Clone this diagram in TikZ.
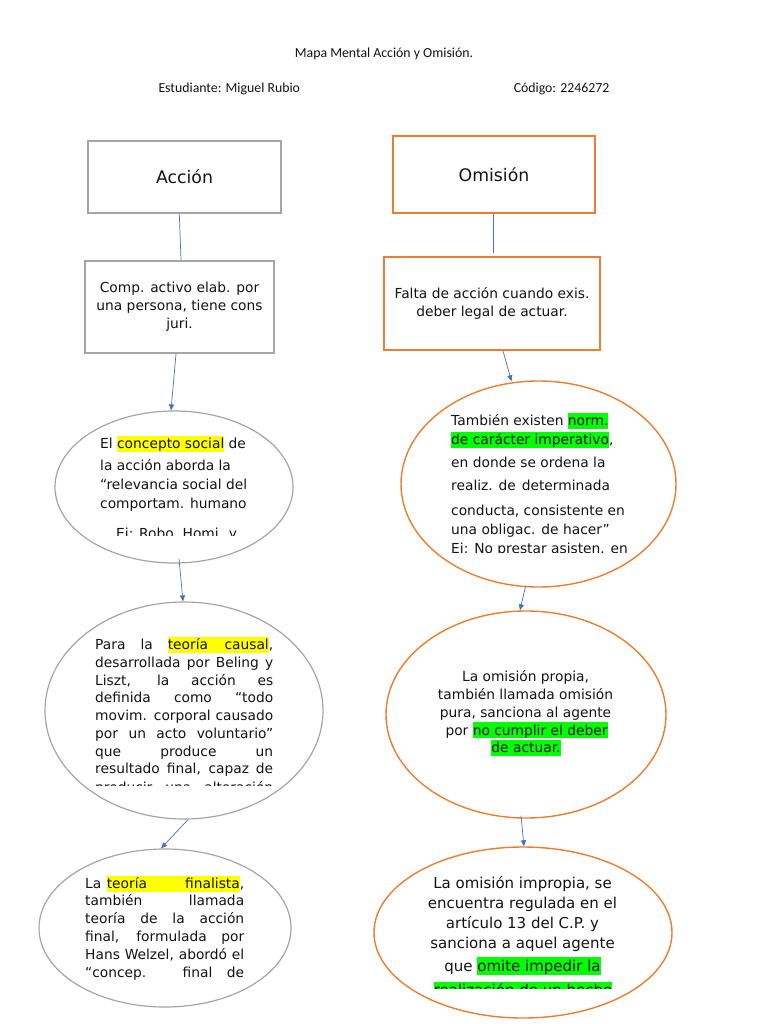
\documentclass[tikz,border=0pt]{standalone}
\usepackage{fontspec}
\setmainfont{DejaVu Sans}
\newfontfamily\hdrfont{Carlito}
\usetikzlibrary{shapes.geometric,arrows.meta}
\definecolor{boxgray}{HTML}{A5A5A5}
\definecolor{orng}{HTML}{ED7D31}
\definecolor{arrblue}{HTML}{4472C4}
\definecolor{txt}{HTML}{141414}
\definecolor{hlyellow}{HTML}{FFFF00}
\definecolor{hlgreen}{HTML}{00FF00}
\newcommand{\hlt}[2]{{\setlength{\fboxsep}{0pt}\colorbox{#1}{\rule[-0.236em]{0pt}{1.164em}#2}}}
\newcommand{\jl}[2]{\makebox[#1][s]{#2}}
\begin{document}
\begin{tikzpicture}[x=1pt,y=-1pt,
  hdr/.style={font=\hdrfont\fontsize{13.8}{16}\selectfont, text=txt, inner sep=0},
  gbox/.style={rectangle, draw=boxgray, line width=1.8pt, inner sep=0, text=txt, align=center},
  obox/.style={rectangle, draw=orng, line width=1.8pt, inner sep=0, text=txt, align=center},
  gell/.style={ellipse, draw=boxgray, line width=1.2pt, inner sep=0},
  oell/.style={ellipse, draw=orng, line width=1.4pt, inner sep=0},
  conn/.style={draw=arrblue, line width=0.7pt},
  arr/.style={conn, -{Triangle[length=6pt,width=5pt]}},
  body/.style={font=\fontsize{13.8}{18}\selectfont, text=txt, inner sep=0},
  bigbody/.style={font=\fontsize{15}{20}\selectfont, text=txt, inner sep=0},
  lineL/.style={body, anchor=mid west},
  lineC/.style={body, anchor=mid},
  lineBC/.style={bigbody, anchor=mid}
]
\fill[white] (0,0) rectangle (768,1024);
\useasboundingbox (0,0) rectangle (768,1024);

% header
\node[hdr, anchor=mid] (title) at (384,55) {Mapa Mental Acción y Omisión.};
\node[hdr, anchor=mid west] (est) at (158.3,90) {Estudiante: Miguel Rubio};
\node[hdr, anchor=mid east] (cod) at (609.5,90) {Código: 2246272};

% boxes
\node[gbox, minimum width=193pt, minimum height=72pt, font=\fontsize{17.3}{20}\selectfont] (acc) at (184.5,177) {Acción};
\node[obox, minimum width=202pt, minimum height=77pt, font=\fontsize{17.3}{20}\selectfont] (omi) at (494,174.5) {Omisión};
\node[gbox, minimum width=189pt, minimum height=92pt, font=\fontsize{13.8}{18}\selectfont] (comp) at (179.5,307) {Comp. activo elab. por\\una persona, tiene cons\\juri.};
\node[obox, minimum width=216.5pt, minimum height=93pt, font=\fontsize{13.8}{18}\selectfont] (fal) at (492,303.5) {Falta de acción cuando exis.\\deber legal de actuar.};

% ellipses
\node[gell, minimum width=238pt, minimum height=152pt] (e1) at (174,487) {};
\node[oell, minimum width=275pt, minimum height=206pt] (e2) at (538.5,484) {};
\node[gell, minimum width=278pt, minimum height=217pt] (e3) at (184,710.5) {};
\node[oell, minimum width=280pt, minimum height=207pt] (e4) at (526,714.5) {};
\node[gell, minimum width=252pt, minimum height=158pt] (e5) at (165,928) {};
\node[oell, minimum width=298pt, minimum height=171pt] (e6) at (523,932.5) {};

% connectors
\draw[conn] ([xshift=-5.2pt]acc.south) -- ([xshift=1.5pt]comp.north);
\draw[conn] ([xshift=-0.7pt]omi.south) -- ([xshift=1.3pt,yshift=3.4pt]fal.north);
\draw[arr] ([xshift=-3.5pt]comp.south) -- ([xshift=-3pt]e1.north);
\draw[arr] ([xshift=11pt]fal.south) -- ([xshift=-27pt,yshift=-1pt]e2.north);
\draw[arr] ([xshift=5pt,yshift=5pt]e1.south) -- ([xshift=-1pt]e3.north);
\draw[arr] ([xshift=-12.8pt,yshift=2pt]e2.south) -- ([xshift=-6pt]e4.north);
\draw[arr] ([xshift=4pt]e3.south) -- ([xshift=-4pt]e5.north);
\draw[arr] ([xshift=-5pt,yshift=3pt]e4.south) -- ([xshift=1pt]e6.north);

% ellipse 1 text
\node[lineL] (t11) at (100,446) {El \hlt{hlyellow}{concepto social} de};
\node[lineL] (t12) at (100,468) {la acción aborda la};
\node[lineL] (t13) at (100,487) {“relevancia social del};
\node[lineL] (t14) at (100,506) {comportam. humano};
\begin{scope}
\clip (90,515) rectangle (280,535);
\node[body, anchor=base west] (t15) at (116,538.4) {Ej: Robo, Homi. y};
\end{scope}

% ellipse 2 text
\node[lineL] (t21) at (451,423) {También existen \hlt{hlgreen}{norm.}};
\node[lineL] (t22) at (451,442) {\hlt{hlgreen}{de carácter imperativo},};
\node[lineL] (t23) at (451,465) {en donde se ordena la};
\node[lineL] (t24) at (451,488) {realiz. de\kern1.5pt\ determinada};
\node[lineL] (t25) at (451,513) {conducta, consistente en};
\node[lineL] (t26) at (451,532) {una obligac. de hacer”};
\begin{scope}
\clip (440,538) rectangle (650,552.5);
\node[body, anchor=base west] (t27) at (451,553.5) {Ej: No prestar asisten. en};
\end{scope}

% ellipse 3 text
\node[lineL] (t31) at (95,647) {\jl{178pt}{Para la \hlt{hlyellow}{\makebox[101pt][s]{teoría causal}},}};
\node[lineL] (t32) at (95,664.5) {\jl{178pt}{desarrollada por Beling y}};
\node[lineL] (t33) at (95,682.5) {\jl{178pt}{Liszt, la acción es}};
\node[lineL] (t34) at (95,700) {\jl{178pt}{definida como “todo}};
\node[lineL] (t35) at (95,718) {\jl{178pt}{movim. corporal causado}};
\node[lineL] (t36) at (95,736) {\jl{178pt}{por un acto voluntario”}};
\node[lineL] (t37) at (95,753.5) {\jl{178pt}{que produce un}};
\node[lineL] (t38) at (95,771) {\jl{178pt}{resultado final, capaz de}};
\begin{scope}
\clip (85,778) rectangle (285,785.3);
\node[body, anchor=base west] (t39) at (95,792.6) {\jl{178pt}{producir una alteración}};
\end{scope}

% ellipse 4 text
\node[lineC] (t41) at (525.5,678.3) {La omisión propia,};
\node[lineC] (t42) at (525.5,696.7) {también llamada omisión};
\node[lineC] (t43) at (525.5,714.3) {pura, sanciona al agente};
\node[lineC] (t44) at (526.5,732.3) {por \hlt{hlgreen}{no cumplir el deber}};
\node[lineC] (t45) at (526,750) {\hlt{hlgreen}{de actuar.}};

% ellipse 5 text
\node[lineL] (t51) at (85,885.7) {\jl{159pt}{La \hlt{hlyellow}{\makebox[133pt][s]{teoría finalista}},}};
\node[lineL] (t52) at (85,903) {\jl{159pt}{también llamada}};
\node[lineL] (t53) at (85,921) {\jl{159pt}{teoría de la acción}};
\node[lineL] (t54) at (85,939) {\jl{159pt}{final, formulada por}};
\node[lineL] (t55) at (85,956.7) {\jl{159pt}{Hans Welzel, abordó el}};
\begin{scope}
\clip (75,965) rectangle (260,979.5);
\node[body, anchor=base west] (t56) at (85,977.7) {\jl{159pt}{“concep. final de}};
\end{scope}

% ellipse 6 text
\node[lineBC] (t61) at (522.5,886) {La omisión impropia, se};
\node[lineBC] (t62) at (522.5,906) {encuentra regulada en el};
\node[lineBC] (t63) at (522.5,926) {artículo 13 del C.P. y};
\node[lineBC] (t64) at (522.5,946) {sanciona a aquel agente};
\node[lineBC] (t65) at (522.5,968.3) {que \hlt{hlgreen}{omite impedir la}};
\begin{scope}
\clip (420,976) rectangle (630,988.3);
\node[bigbody, anchor=base] (t66) at (523,995.5) {\hlt{hlgreen}{realización de un hecho}};
\end{scope}
\end{tikzpicture}
\end{document}
